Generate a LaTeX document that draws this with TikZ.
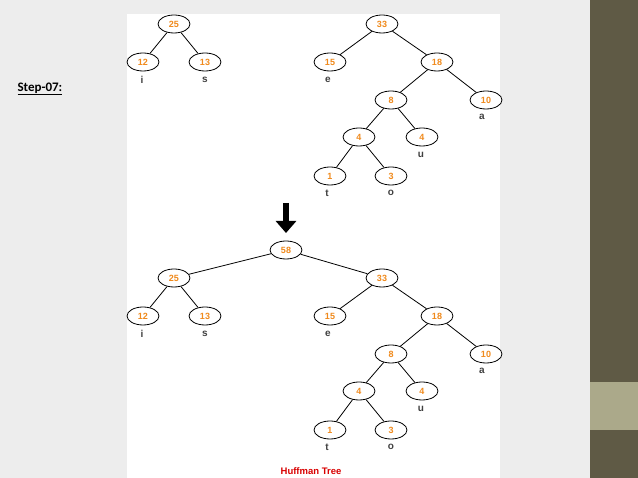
\documentclass[tikz,border=0pt]{standalone}
\usepackage{fontspec}
\setmainfont{Liberation Sans}
\newfontfamily\carlitofam{Carlito}
\usetikzlibrary{shapes.geometric,arrows.meta}
\definecolor{bar}{HTML}{5F5A45}
\definecolor{barl}{HTML}{ABA98A}
\definecolor{num}{HTML}{F08A1C}
\tikzset{
 hn/.style={ellipse,draw,thick,minimum width=32pt,minimum height=18pt,inner sep=0pt,font=\bfseries\fontsize{9}{10}\selectfont,text=num,fill=white},
 lb/.style={font=\bfseries\fontsize{10}{11}\selectfont,text=black!75},
 ed/.style={thick}
}
\begin{document}
\begin{tikzpicture}[x=1pt,y=-1pt]
\useasboundingbox (0,0) rectangle (638,478);
\fill[black!7] (0,0) rectangle (638,478);
\fill[bar] (590,0) rectangle (638,478);
\fill[barl] (590,382) rectangle (638,430);
\fill[white] (127,14) rectangle (500,478);
\node[font=\carlitofam\bfseries\fontsize{13}{15}\selectfont,anchor=west] (st) at (14,89) {\underline{Step-07:}};
\foreach \dy/\p in {0/a,254/b}{
 \begin{scope}[yshift=-\dy]
 \node[hn] (\p25) at (174,24) {25};
 \node[hn] (\p12) at (143,62) {12};
 \node[hn] (\p13) at (205,62) {13};
 \node[hn] (\p33) at (382,24) {33};
 \node[hn] (\p15) at (330,62) {15};
 \node[hn] (\p18) at (437,62) {18};
 \node[hn] (\p8) at (391,100) {8};
 \node[hn] (\p10) at (486,100) {10};
 \node[hn] (\p4a) at (359,137) {4};
 \node[hn] (\p4b) at (422,137) {4};
 \node[hn] (\p1) at (330,176) {1};
 \node[hn] (\p3) at (391,176) {3};
 \node[lb] (\p li) at (142,80) {i};
 \node[lb] (\p ls) at (205,80) {s};
 \node[lb] (\p le) at (328,80) {e};
 \node[lb] (\p la) at (482,117) {a};
 \node[lb] (\p lu) at (421,155) {u};
 \node[lb] (\p lt) at (327,193) {t};
 \node[lb] (\p lo) at (391,193) {o};
 \draw[ed] (\p25)--(\p12) (\p25)--(\p13) (\p33)--(\p15) (\p33)--(\p18) (\p18)--(\p8) (\p18)--(\p10)
  (\p8)--(\p4a) (\p8)--(\p4b) (\p4a)--(\p1) (\p4a)--(\p3);
 \end{scope}}
\node[hn] (r58) at (286,250) {58};
\draw[ed] (r58)--(b25) (r58)--(b33);
\coordinate (ar1) at (286,203);
\coordinate (ar2) at (286,233);
\draw[line width=6pt,-{Triangle[length=12pt,width=20pt]}] (ar1)--(ar2);
\node[font=\bfseries\fontsize{9.5}{11}\selectfont,text=red!85!black] (cap) at (311,471) {Huffman Tree};
\end{tikzpicture}
\end{document}
